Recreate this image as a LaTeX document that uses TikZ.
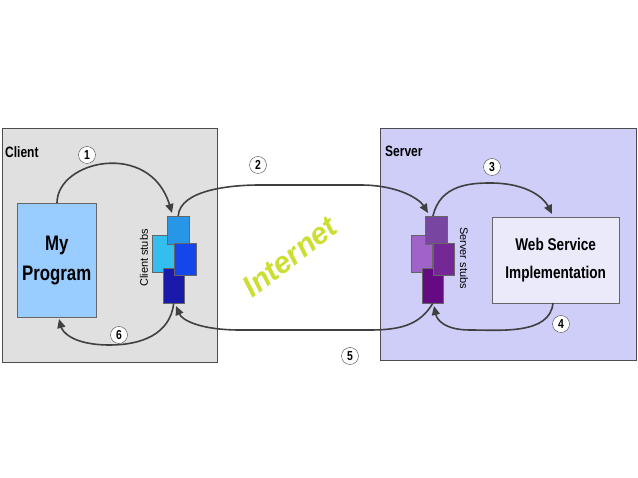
\documentclass[tikz,border=0pt]{standalone}
\usepackage{fontspec}
\setmainfont{Liberation Sans}
\newfontfamily\narrowf{Liberation Sans}[FakeStretch=0.8]
\usetikzlibrary{arrows.meta}
\begin{document}
\begin{tikzpicture}[x=1pt,y=-1pt,
  flow/.style={draw=black!75,line width=1.6pt,-{Triangle[length=9pt,width=8pt]}},
  num/.style={circle,draw=black!70,fill=white,inner sep=0.5pt,minimum size=17pt,font=\narrowf\bfseries\fontsize{13}{13}\selectfont},
  sq/.style={draw=black!60,line width=0.4pt},
  lbl/.style={font=\narrowf\bfseries\fontsize{15}{15}\selectfont,anchor=north west,inner sep=0pt}]
\useasboundingbox (0,0) rectangle (638,478);
\fill[white] (0,0) rectangle (638,478);
\node[draw=black!70,fill=black!12,line width=0.8pt,minimum width=215pt,minimum height=234pt,anchor=north west,inner sep=0pt] (client) at (2,128) {};
\node[draw=black!70,fill={rgb,255:red,206;green,206;blue,248},line width=0.8pt,minimum width=256pt,minimum height=232pt,anchor=north west,inner sep=0pt] (server) at (380,128) {};
\node[lbl] (cl) at (5,146) {Client};
\node[lbl] (sl) at (385,146) {Server};
\node[draw=black!60,fill={rgb,255:red,153;green,204;blue,255},minimum width=79pt,minimum height=114pt,anchor=north west,inner sep=0pt,align=center,font=\narrowf\bfseries\fontsize{21}{30}\selectfont] (prog) at (17,203) {My\\Program};
\node[draw=black!60,fill={rgb,255:red,234;green,234;blue,250},minimum width=127pt,minimum height=86pt,anchor=north west,inner sep=0pt,align=center,font=\narrowf\bfseries\fontsize{17}{28}\selectfont] (ws) at (492,217) {Web Service\\Implementation};
% client stubs
\node[sq,fill={rgb,255:red,51;green,190;blue,238},minimum width=22pt,minimum height=37pt,anchor=north west,inner sep=0pt] (cb) at (152,235) {};
\node[sq,fill={rgb,255:red,40;green,150;blue,230},minimum width=22pt,minimum height=28pt,anchor=north west,inner sep=0pt] (ca) at (167,216) {};
\node[sq,fill={rgb,255:red,25;green,25;blue,170},minimum width=21pt,minimum height=35pt,anchor=north west,inner sep=0pt] (cd) at (163,268) {};
\node[sq,fill={rgb,255:red,20;green,70;blue,235},minimum width=22pt,minimum height=32pt,anchor=north west,inner sep=0pt] (cc) at (174,243) {};
% server stubs
\node[sq,fill={rgb,255:red,160;green,100;blue,200},minimum width=21pt,minimum height=37pt,anchor=north west,inner sep=0pt] (sb) at (411,235) {};
\node[sq,fill={rgb,255:red,120;green,70;blue,160},minimum width=22pt,minimum height=28pt,anchor=north west,inner sep=0pt] (sa) at (425,216) {};
\node[sq,fill={rgb,255:red,100;green,10;blue,130},minimum width=21pt,minimum height=35pt,anchor=north west,inner sep=0pt] (sd) at (422,268) {};
\node[sq,fill={rgb,255:red,115;green,40;blue,150},minimum width=21pt,minimum height=32pt,anchor=north west,inner sep=0pt] (sc) at (433,243) {};
\node[rotate=90,font=\fontsize{11}{11}\selectfont] (cst) at (144,258) {Client stubs};
\node[rotate=-90,font=\fontsize{11}{11}\selectfont] (sst) at (464,258) {Server stubs};
\node[rotate=38,font=\bfseries\itshape\fontsize{30}{30}\selectfont,text={rgb,255:red,205;green,222;blue,50}] (inet) at (290,257) {Internet};
% arrows
\draw[flow] (57,203) .. controls (57,160) and (150,140) .. (172,213);
\draw[flow] (ca.north) .. controls (180,190) and (230,185) .. (260,185) -- (360,185) .. controls (400,185) and (420,200) .. (428,213);
\draw[flow] (433,216) .. controls (440,185) and (470,183) .. (490,183) .. controls (530,183) and (545,200) .. (552,214);
\draw[flow] (553,303) .. controls (550,335) and (500,330) .. (470,330) .. controls (445,330) and (437,320) .. (434,306);
\draw[flow] (sd.south) .. controls (420,325) and (400,330) .. (370,330) -- (240,330) .. controls (200,330) and (182,320) .. (176,306);
\draw[flow] (cd.south) .. controls (170,335) and (140,345) .. (110,345) .. controls (70,345) and (62,330) .. (59,319);
\node[num] (n1) at (87,155) {1};
\node[num] (n2) at (258,165) {2};
\node[num] (n3) at (492,167) {3};
\node[num] (n4) at (561,324) {4};
\node[num] (n5) at (350,356) {5};
\node[num] (n6) at (119,335) {6};
\end{tikzpicture}
\end{document}
